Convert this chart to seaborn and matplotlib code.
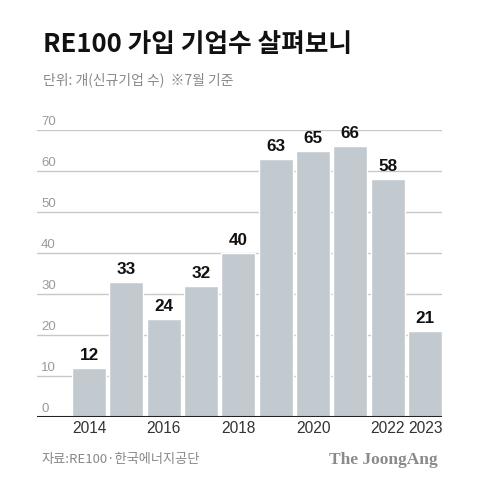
import pandas as pd
import numpy as np
import matplotlib
matplotlib.use('Agg')
import matplotlib.pyplot as plt
import matplotlib.transforms as mtransforms
import seaborn as sns

# data
years = ['2014', '2015', '2016', '2017', '2018', '2019', '2020', '2021', '2022', '2023']
counts = [12, 33, 24, 32, 40, 63, 65, 66, 58, 21]
shown_years = ['2014', '2016', '2018', '2020', '2022', '2023']
y_ticks = [0, 10, 20, 30, 40, 50, 60, 70]

title = 'RE100 가입 기업수 살펴보니'
subtitle = '단위: 개(신규기업 수)  ※7월 기준'
source = '자료:RE100·한국에너지공단'
brand = 'The JoongAng'

df = pd.DataFrame({'year': years, 'count': counts})

sns.set_style('white')
plt.rcParams['font.family'] = ['Noto Sans CJK KR', 'DejaVu Sans']
num_font = 'Liberation Sans'

bar_color = '#c3cacf'
grid_color = '#c8c8c8'
tick_color = '#9a9a9a'

fig = plt.figure(figsize=(4.8, 4.99), dpi=100)
ax = fig.add_axes([37 / 480, 82 / 499, 405 / 480, 287 / 499])

sns.barplot(data=df, x='year', y='count', order=years, color=bar_color,
            width=0.91, saturation=1, ax=ax, zorder=2)

ax.set_xlim(-1.393, 9.455)
ax.set_ylim(0, 70)
ax.set_xlabel('')
ax.set_ylabel('')
for s in ax.spines.values():
    s.set_visible(False)

# gridlines
for v in y_ticks[1:]:
    ax.axhline(v, color=grid_color, lw=1, zorder=1)
ax.axhline(0, color='#222222', lw=1.5, zorder=3)

# y labels inside the plot, above the lines
trans = mtransforms.blended_transform_factory(ax.transAxes, ax.transData)
for v in y_ticks:
    ax.text(0.01, v + 0.5, str(v), transform=trans, ha='left', va='bottom',
            fontsize=9.5, color=tick_color, family=num_font)
ax.set_yticks([])

# x labels only for some years
pos = [years.index(y) for y in shown_years]
ax.set_xticks(pos)
ax.set_xticklabels(shown_years, fontsize=11.2, color='#333333', family=num_font)
ax.tick_params(axis='x', length=0, pad=3)

# value labels
for i, c in enumerate(counts):
    ax.text(i, c + 1.2, str(c), ha='center', va='bottom', fontsize=12.3,
            fontweight='bold', color='#111111', family=num_font, clip_on=False)

fig.text(43 / 480, 1 - 44 / 499, title, fontsize=18.5, fontweight='bold',
         color='#111111', ha='left', va='center')
fig.text(43 / 480, 1 - 80 / 499, subtitle, fontsize=10, color='#888888',
         ha='left', va='center')
fig.text(42 / 480, 1 - 460 / 499, source, fontsize=9.5, color='#888888',
         ha='left', va='center')
fig.text(438 / 480, 1 - 460 / 499, brand, fontsize=12.5, fontweight='bold',
         family='Liberation Serif', color='#8a8a8a', ha='right', va='center')

fig.savefig('out.png', dpi=100, facecolor='white')
